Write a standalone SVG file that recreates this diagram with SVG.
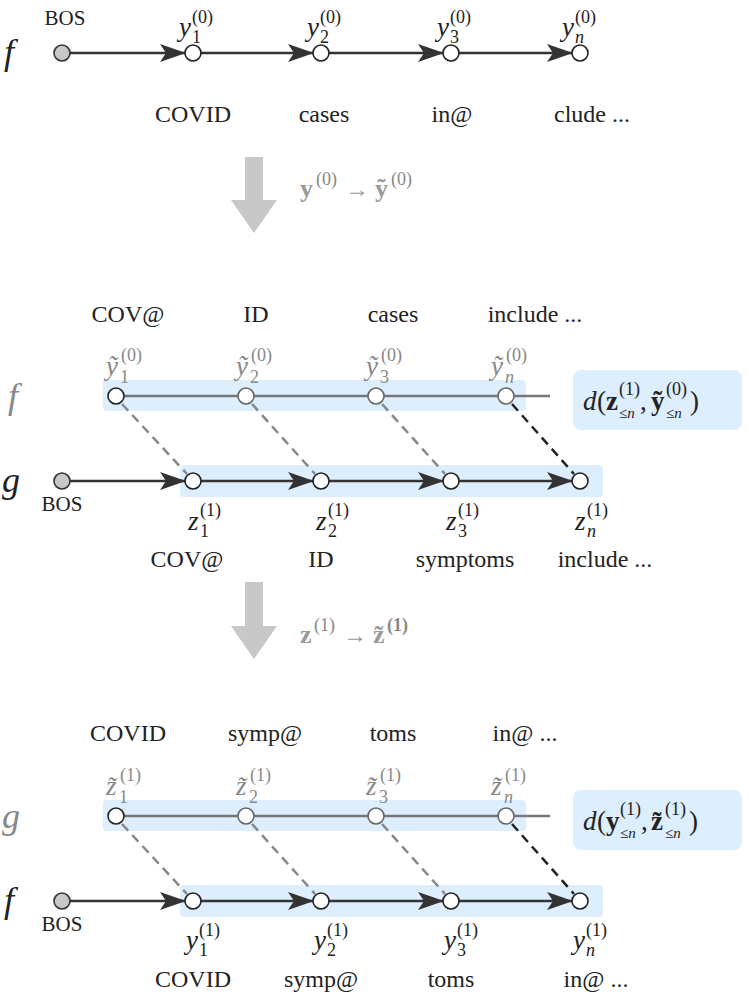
<svg xmlns="http://www.w3.org/2000/svg" width="749" height="994" viewBox="0 0 749 994" font-family="'Liberation Serif', 'Times New Roman', 'DejaVu Serif', serif">
<style>
text{font-family:'Liberation Serif','Times New Roman','DejaVu Serif',serif;fill:#222}
.w{font-size:24px;text-anchor:middle}
.m{font-size:27px;font-style:italic}
.g{fill:#888}
.s{font-size:18px}
.si{font-size:18px;font-style:italic}
.fl{font-size:36px;font-style:italic}
.n{fill:#fff;stroke:#222;stroke-width:1.6}
.ng{fill:#fff;stroke:#666;stroke-width:1.6}
.bos{fill:#c8c8c8;stroke:#333;stroke-width:1.6}
.e{stroke:#333;stroke-width:2.5;marker-end:url(#ah2)}
.eg{stroke:#777;stroke-width:2.5}
.d{stroke:#888;stroke-width:2.5;stroke-dasharray:9,6}
.dk{stroke:#222;stroke-width:2.5;stroke-dasharray:9,6}
.hl{fill:#ddeeff}
.big{fill:#c8c8c8}
</style>
<defs>
<marker id="ah2" markerWidth="26" markerHeight="18" refX="25" refY="9" orient="auto" markerUnits="userSpaceOnUse"><path d="M0,0L26,9L0,18L6,9Z" fill="#333"/></marker></defs>
<g id="highlights">
<rect class="hl" x="103" y="380" width="423" height="31" rx="4"/>
<rect class="hl" x="180" y="465" width="423" height="32" rx="4"/>
<rect class="hl" x="573" y="370" width="169" height="60" rx="8"/>
<rect class="hl" x="103" y="800" width="423" height="31" rx="4"/>
<rect class="hl" x="180" y="885" width="423" height="32" rx="4"/>
<rect class="hl" x="573" y="790" width="169" height="60" rx="8"/>
</g>
<g id="connectors">
<line class="e" x1="62" y1="53" x2="185" y2="53"/>
<line class="e" x1="201" y1="53" x2="313" y2="53"/>
<line class="e" x1="329" y1="53" x2="443" y2="53"/>
<line class="e" x1="459" y1="53" x2="572" y2="53"/>
<line class="eg" x1="116" y1="396" x2="550" y2="396"/>
<line class="d" x1="122" y1="404" x2="187" y2="474"/>
<line class="d" x1="252" y1="404" x2="315" y2="474"/>
<line class="d" x1="382" y1="404" x2="445" y2="474"/>
<line class="dk" x1="512" y1="404" x2="574" y2="474"/>
<line class="e" x1="62" y1="481" x2="185" y2="481"/>
<line class="e" x1="201" y1="481" x2="313" y2="481"/>
<line class="e" x1="329" y1="481" x2="443" y2="481"/>
<line class="e" x1="459" y1="481" x2="572" y2="481"/>
<line class="eg" x1="116" y1="816" x2="550" y2="816"/>
<line class="d" x1="122" y1="824" x2="187" y2="894"/>
<line class="d" x1="252" y1="824" x2="315" y2="894"/>
<line class="d" x1="382" y1="824" x2="445" y2="894"/>
<line class="dk" x1="512" y1="824" x2="574" y2="894"/>
<line class="e" x1="62" y1="901" x2="185" y2="901"/>
<line class="e" x1="201" y1="901" x2="313" y2="901"/>
<line class="e" x1="329" y1="901" x2="443" y2="901"/>
<line class="e" x1="459" y1="901" x2="572" y2="901"/>
</g>
<g id="row1">
<text class="fl" x="4" y="64">f</text>
<circle class="bos" cx="62" cy="53" r="8"/>
<circle class="n" cx="193" cy="53" r="8"/><circle class="n" cx="321" cy="53" r="8"/><circle class="n" cx="451" cy="53" r="8"/><circle class="n" cx="580" cy="53" r="8"/>
<text class="w" x="65" y="25" style="font-size:21px">BOS</text>
<text class="m" x="179" y="36">y</text><text class="s" x="192" y="43">1</text><text class="s" x="192" y="23">(0)</text>
<text class="m" x="307" y="36">y</text><text class="s" x="320" y="43">2</text><text class="s" x="320" y="23">(0)</text>
<text class="m" x="437" y="36">y</text><text class="s" x="450" y="43">3</text><text class="s" x="450" y="23">(0)</text>
<text class="m" x="562" y="36">y</text><text class="si" x="575" y="43">n</text><text class="s" x="575" y="23">(0)</text>
<text class="w" x="193" y="122">COVID</text><text class="w" x="324" y="122">cases</text><text class="w" x="452" y="122">in@</text><text class="w" x="592" y="122">clude  ...</text>
</g>
<g id="arrow1">
<path class="big" d="M245,157H263V200H277L254,233L231,200H245Z"/>
<text x="300" y="197" style="font-size:26px;fill:#999;font-weight:bold">y</text><text class="s g" x="316" y="185">(0)</text>
<text x="345" y="197" style="font-size:24px;fill:#999">→</text>
<text x="375" y="197" style="font-size:26px;fill:#999;font-weight:bold">ỹ</text><text class="s g" x="391" y="185">(0)</text>
</g>
<g id="row2">
<text class="w" x="128" y="322">COV@</text><text class="w" x="256" y="322">ID</text><text class="w" x="393" y="322">cases</text><text class="w" x="535" y="322">include  ...</text>
<text class="fl g" x="8" y="408">f</text>
<circle class="n" cx="116" cy="396" r="8"/><circle class="ng" cx="246" cy="396" r="8"/><circle class="ng" cx="376" cy="396" r="8"/><circle class="ng" cx="506" cy="396" r="8"/>
<text class="m g" x="106" y="375">ỹ</text><text class="s g" x="120" y="383">1</text><text class="s g" x="121" y="361">(0)</text>
<text class="m g" x="236" y="375">ỹ</text><text class="s g" x="250" y="383">2</text><text class="s g" x="251" y="361">(0)</text>
<text class="m g" x="366" y="375">ỹ</text><text class="s g" x="380" y="383">3</text><text class="s g" x="381" y="361">(0)</text>
<text class="m g" x="491" y="375">ỹ</text><text class="si g" x="505" y="383">n</text><text class="s g" x="506" y="361">(0)</text>
<text class="m" x="583" y="410">d</text><text x="597" y="410" style="font-size:27px">(</text>
<text x="606" y="410" style="font-size:27px;font-weight:bold">z</text><text class="s" x="619" y="418" style="font-size:15px">≤<tspan font-style="italic">n</tspan></text><text class="s" x="619" y="395">(1)</text>
<text x="640" y="410" style="font-size:27px">,</text>
<text x="651" y="410" style="font-size:27px;font-weight:bold">ỹ</text><text class="s" x="666" y="418" style="font-size:15px">≤<tspan font-style="italic">n</tspan></text><text class="s" x="666" y="395">(0)</text>
<text x="690" y="410" style="font-size:27px">)</text>
<text class="fl" x="2" y="492">g</text>
<circle class="bos" cx="62" cy="481" r="8"/>
<circle class="n" cx="193" cy="481" r="8"/><circle class="n" cx="321" cy="481" r="8"/><circle class="n" cx="451" cy="481" r="8"/><circle class="n" cx="580" cy="481" r="8"/>
<text class="w" x="62" y="511" style="font-size:21px">BOS</text>
<text class="m" x="188" y="530">z</text><text class="s" x="200" y="537">1</text><text class="s" x="200" y="516">(1)</text>
<text class="m" x="316" y="530">z</text><text class="s" x="328" y="537">2</text><text class="s" x="328" y="516">(1)</text>
<text class="m" x="446" y="530">z</text><text class="s" x="458" y="537">3</text><text class="s" x="458" y="516">(1)</text>
<text class="m" x="575" y="530">z</text><text class="si" x="587" y="537">n</text><text class="s" x="587" y="516">(1)</text>
<text class="w" x="187" y="567">COV@</text><text class="w" x="321" y="567">ID</text><text class="w" x="465" y="567">symptoms</text><text class="w" x="605" y="567">include  ...</text>
</g>
<g id="arrow2">
<path class="big" d="M245,582H263V626H277L254,659L231,626H245Z"/>
<text x="300" y="643" style="font-size:26px;fill:#999;font-weight:bold">z</text><text class="s g" x="314" y="631">(1)</text>
<text x="343" y="643" style="font-size:24px;fill:#999">→</text>
<text x="373" y="643" style="font-size:26px;fill:#999;font-weight:bold">z̃</text><text class="s g" x="387" y="631" font-weight="bold">(1)</text>
</g>
<g id="row3">
<text class="w" x="128" y="741">COVID</text><text class="w" x="265" y="741">symp@</text><text class="w" x="393" y="741">toms</text><text class="w" x="525" y="741">in@     ...</text>
<text class="fl g" x="2" y="828">g</text>
<circle class="n" cx="116" cy="816" r="8"/><circle class="ng" cx="246" cy="816" r="8"/><circle class="ng" cx="376" cy="816" r="8"/><circle class="ng" cx="506" cy="816" r="8"/>
<text class="m g" x="106" y="795">z̃</text><text class="s g" x="119" y="803">1</text><text class="s g" x="120" y="781">(1)</text>
<text class="m g" x="236" y="795">z̃</text><text class="s g" x="249" y="803">2</text><text class="s g" x="250" y="781">(1)</text>
<text class="m g" x="366" y="795">z̃</text><text class="s g" x="379" y="803">3</text><text class="s g" x="380" y="781">(1)</text>
<text class="m g" x="491" y="795">z̃</text><text class="si g" x="504" y="803">n</text><text class="s g" x="505" y="781">(1)</text>
<text class="m" x="583" y="830">d</text><text x="597" y="830" style="font-size:27px">(</text>
<text x="606" y="830" style="font-size:27px;font-weight:bold">y</text><text class="s" x="620" y="838" style="font-size:15px">≤<tspan font-style="italic">n</tspan></text><text class="s" x="620" y="815">(1)</text>
<text x="641" y="830" style="font-size:27px">,</text>
<text x="651" y="830" style="font-size:27px;font-weight:bold">z̃</text><text class="s" x="665" y="838" style="font-size:15px">≤<tspan font-style="italic">n</tspan></text><text class="s" x="665" y="815">(1)</text>
<text x="689" y="830" style="font-size:27px">)</text>
<text class="fl" x="4" y="912">f</text>
<circle class="bos" cx="62" cy="901" r="8"/>
<circle class="n" cx="193" cy="901" r="8"/><circle class="n" cx="321" cy="901" r="8"/><circle class="n" cx="451" cy="901" r="8"/><circle class="n" cx="580" cy="901" r="8"/>
<text class="w" x="62" y="931" style="font-size:21px">BOS</text>
<text class="m" x="186" y="949">y</text><text class="s" x="199" y="956">1</text><text class="s" x="199" y="936">(1)</text>
<text class="m" x="314" y="949">y</text><text class="s" x="327" y="956">2</text><text class="s" x="327" y="936">(1)</text>
<text class="m" x="444" y="949">y</text><text class="s" x="457" y="956">3</text><text class="s" x="457" y="936">(1)</text>
<text class="m" x="573" y="949">y</text><text class="si" x="586" y="956">n</text><text class="s" x="586" y="936">(1)</text>
<text class="w" x="193" y="987">COVID</text><text class="w" x="321" y="987">symp@</text><text class="w" x="451" y="987">toms</text><text class="w" x="596" y="987">in@     ...</text>
</g>
</svg>
